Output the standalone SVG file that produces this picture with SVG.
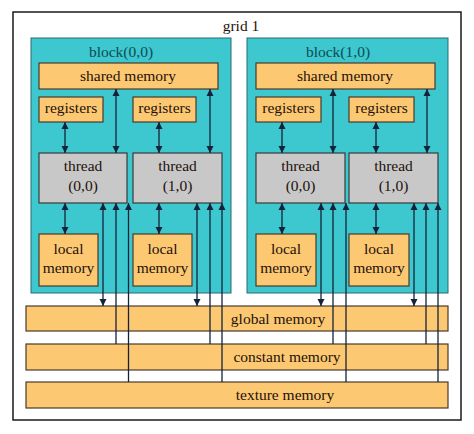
<svg xmlns="http://www.w3.org/2000/svg" width="474" height="434" viewBox="0 0 474 434">
<defs>
<marker id="ah" viewBox="0 0 10 10" refX="10" refY="5" markerWidth="7" markerHeight="8" markerUnits="userSpaceOnUse" orient="auto-start-reverse">
<path d="M0,0 L10,5 L0,10 z" fill="#14233a"/>
</marker>
<style>
text{font-family:"Liberation Serif","DejaVu Serif",serif;font-size:15.5px;fill:#1e120a;text-anchor:middle}
.blk{fill:#3cc8ce;stroke:#2a6a70;stroke-width:1}
.mem{fill:#fdc872;stroke:#4a3a2a;stroke-width:1.2}
.thr{fill:#c8c8c8;stroke:#3a3a3a;stroke-width:1.2}
.btxt{fill:#0f4a55}
.c line{stroke:#14233a;stroke-width:1.3}
.dbl{marker-start:url(#ah);marker-end:url(#ah)}
.up{marker-start:url(#ah)}
</style>
</defs>
<rect x="0" y="0" width="474" height="434" fill="#ffffff"/>
<rect x="13" y="12" width="448" height="408" fill="#ffffff" stroke="#1a1a1a" stroke-width="1.5"/>
<text x="241" y="31">grid 1</text>

<g id="block00">
<rect class="blk" x="31" y="38" width="200" height="255"/>
<text class="btxt" x="121" y="57">block(0,0)</text>
</g>
<g id="block10">
<rect class="blk" x="247" y="38" width="201" height="255"/>
<text class="btxt" x="338" y="57">block(1,0)</text>
</g>

<g id="shared00"><rect class="mem" x="39" y="63" width="179" height="26"/><text x="128" y="81">shared memory</text></g>
<g id="shared10"><rect class="mem" x="256" y="63" width="179" height="26"/><text x="345" y="81">shared memory</text></g>

<g id="reg00a"><rect class="mem" x="39" y="97" width="64" height="25"/><text x="71" y="113">registers</text></g>
<g id="reg00b"><rect class="mem" x="133" y="97" width="63" height="25"/><text x="164.5" y="113">registers</text></g>
<g id="reg10a"><rect class="mem" x="256" y="97" width="65" height="25"/><text x="288.5" y="113">registers</text></g>
<g id="reg10b"><rect class="mem" x="349" y="97" width="65" height="25"/><text x="381.5" y="113">registers</text></g>

<g id="thr00a"><rect class="thr" x="39" y="153" width="88" height="50"/><text x="83" y="171">thread</text><text x="83" y="191">(0,0)</text></g>
<g id="thr00b"><rect class="thr" x="133" y="153" width="89" height="50"/><text x="177.5" y="171">thread</text><text x="177.5" y="191">(1,0)</text></g>
<g id="thr10a"><rect class="thr" x="256" y="153" width="89" height="50"/><text x="300.5" y="171">thread</text><text x="300.5" y="191">(0,0)</text></g>
<g id="thr10b"><rect class="thr" x="349" y="153" width="89" height="50"/><text x="393.5" y="171">thread</text><text x="393.5" y="191">(1,0)</text></g>

<g id="loc00a"><rect class="mem" x="39" y="234" width="59" height="52"/><text x="68.5" y="254">local</text><text x="68.5" y="273">memory</text></g>
<g id="loc00b"><rect class="mem" x="133" y="234" width="59" height="52"/><text x="162.5" y="254">local</text><text x="162.5" y="273">memory</text></g>
<g id="loc10a"><rect class="mem" x="256" y="234" width="60" height="52"/><text x="286" y="254">local</text><text x="286" y="273">memory</text></g>
<g id="loc10b"><rect class="mem" x="349" y="234" width="60" height="52"/><text x="379" y="254">local</text><text x="379" y="273">memory</text></g>

<g id="global"><rect class="mem" x="26" y="306" width="422" height="25"/></g>
<g id="constant"><rect class="mem" x="26" y="344" width="422" height="26"/></g>
<g id="texture"><rect class="mem" x="26" y="382" width="422" height="26"/></g>

<g class="c" id="connectors">
<line class="dbl" x1="65" y1="122" x2="65" y2="153"/>
<line class="dbl" x1="159" y1="122" x2="159" y2="153"/>
<line class="dbl" x1="282" y1="122" x2="282" y2="153"/>
<line class="dbl" x1="376" y1="122" x2="376" y2="153"/>
<line class="dbl" x1="116" y1="89" x2="116" y2="153"/>
<line class="dbl" x1="210" y1="89" x2="210" y2="153"/>
<line class="dbl" x1="333" y1="89" x2="333" y2="153"/>
<line class="dbl" x1="427" y1="89" x2="427" y2="153"/>
<line class="dbl" x1="65" y1="203" x2="65" y2="234"/>
<line class="dbl" x1="159" y1="203" x2="159" y2="234"/>
<line class="dbl" x1="282" y1="203" x2="282" y2="234"/>
<line class="dbl" x1="376" y1="203" x2="376" y2="234"/>
<line class="dbl" x1="103" y1="203" x2="103" y2="306"/>
<line class="dbl" x1="197" y1="203" x2="197" y2="306"/>
<line class="dbl" x1="321" y1="203" x2="321" y2="306"/>
<line class="dbl" x1="414" y1="203" x2="414" y2="306"/>
<line class="up" x1="116" y1="203" x2="116" y2="344"/>
<line class="up" x1="210" y1="203" x2="210" y2="344"/>
<line class="up" x1="333" y1="203" x2="333" y2="344"/>
<line class="up" x1="426" y1="203" x2="426" y2="344"/>
<line class="up" x1="128.5" y1="203" x2="128.5" y2="382"/>
<line class="up" x1="222" y1="203" x2="222" y2="382"/>
<line class="up" x1="346" y1="203" x2="346" y2="382"/>
<line class="up" x1="438" y1="203" x2="438" y2="382"/>
</g>

<text x="278" y="324">global memory</text>
<text x="287" y="362">constant memory</text>
<text x="285" y="400">texture memory</text>
</svg>
